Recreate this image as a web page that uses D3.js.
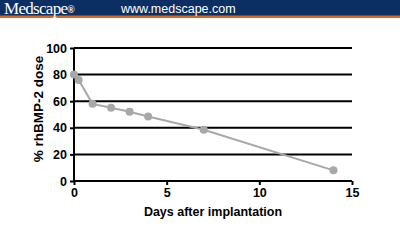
<!DOCTYPE html>
<html><head><meta charset="utf-8">
<script src="https://cdn.jsdelivr.net/npm/d3@7/dist/d3.min.js"></script>
<style>body{margin:0;background:#fff}svg{display:block}</style>
</head><body>
<svg id="c" width="400" height="245"></svg>
<script>
const days = [0, 0.25, 1, 2, 3, 4, 7, 14];
const dose = [80, 76, 58, 55, 52, 48.5, 38.5, 8];
const xTicks = [0, 5, 10, 15];
const yTicks = [0, 20, 40, 60, 80, 100];
const xTitle = "Days after implantation";
const yTitle = "% rhBMP-2 dose";

const svg = d3.select("#c");
// header
svg.append("rect").attr("x",0).attr("y",0).attr("width",400).attr("height",16).attr("fill","#0b2f62");
svg.append("rect").attr("x",0).attr("y",15.5).attr("width",400).attr("height",2.5).attr("fill","#e0661a");
svg.append("text").attr("x",4).attr("y",13.5).attr("fill","#fff")
  .attr("font-family","Liberation Serif, serif").attr("font-size",17).attr("letter-spacing",-0.7)
  .text("Medscape").append("tspan").attr("font-size",10).attr("dy",-0.5).attr("font-weight","bold").text("®");
svg.append("text").attr("x",121).attr("y",13).attr("fill","#fff")
  .attr("font-family","Liberation Sans, Arial, sans-serif").attr("font-size",12.5)
  .text("www.medscape.com");

const x = d3.scaleLinear().domain([0,15]).range([74,352]);
const y = d3.scaleLinear().domain([0,100]).range([181,48]);
const font = "Liberation Sans, Arial, sans-serif";

// gridlines
svg.append("g").selectAll("line").data(yTicks.filter(d=>d>0)).join("line")
  .attr("x1",x(0)).attr("x2",x(15)).attr("y1",d=>y(d)).attr("y2",d=>y(d))
  .attr("stroke","#000").attr("stroke-width",2);

const xa = svg.append("g").attr("transform",`translate(0,${y(0)})`)
  .call(d3.axisBottom(x).tickValues(xTicks).tickSize(4).tickPadding(3));
const ya = svg.append("g").attr("transform",`translate(${x(0)},0)`)
  .call(d3.axisLeft(y).tickValues(yTicks).tickSize(4).tickPadding(3));
[xa,ya].forEach(a=>{
  a.select(".domain").attr("stroke","#000").attr("stroke-width",2);
  a.selectAll(".tick line").attr("stroke","#000").attr("stroke-width",2);
  a.selectAll(".tick text").attr("font-family",font).attr("font-weight","bold")
    .attr("font-size",12.5).attr("fill","#000");
});
ya.select(".domain").attr("d",`M0,${y(100)}V${y(0)}`);
xa.select(".domain").attr("d",`M${x(0)},0H${x(15)}`);

const pts = days.map((d,i)=>[d,dose[i]]);
svg.append("path").datum(pts)
  .attr("d",d3.line().x(d=>x(d[0])).y(d=>y(d[1])))
  .attr("fill","none").attr("stroke","#a8a8a8").attr("stroke-width",2);
svg.append("g").selectAll("circle").data(pts).join("circle")
  .attr("cx",d=>x(d[0])).attr("cy",d=>y(d[1])).attr("r",4).attr("fill","#a8a8a8");

svg.append("text").attr("x",213).attr("y",216).attr("text-anchor","middle")
  .attr("font-family",font).attr("font-weight","bold").attr("font-size",12.5).text(xTitle);
svg.append("text").attr("transform",`translate(43,109) rotate(-90)`).attr("text-anchor","middle")
  .attr("font-family",font).attr("font-weight","bold").attr("font-size",13.5).text(yTitle);
</script>
</body></html>
